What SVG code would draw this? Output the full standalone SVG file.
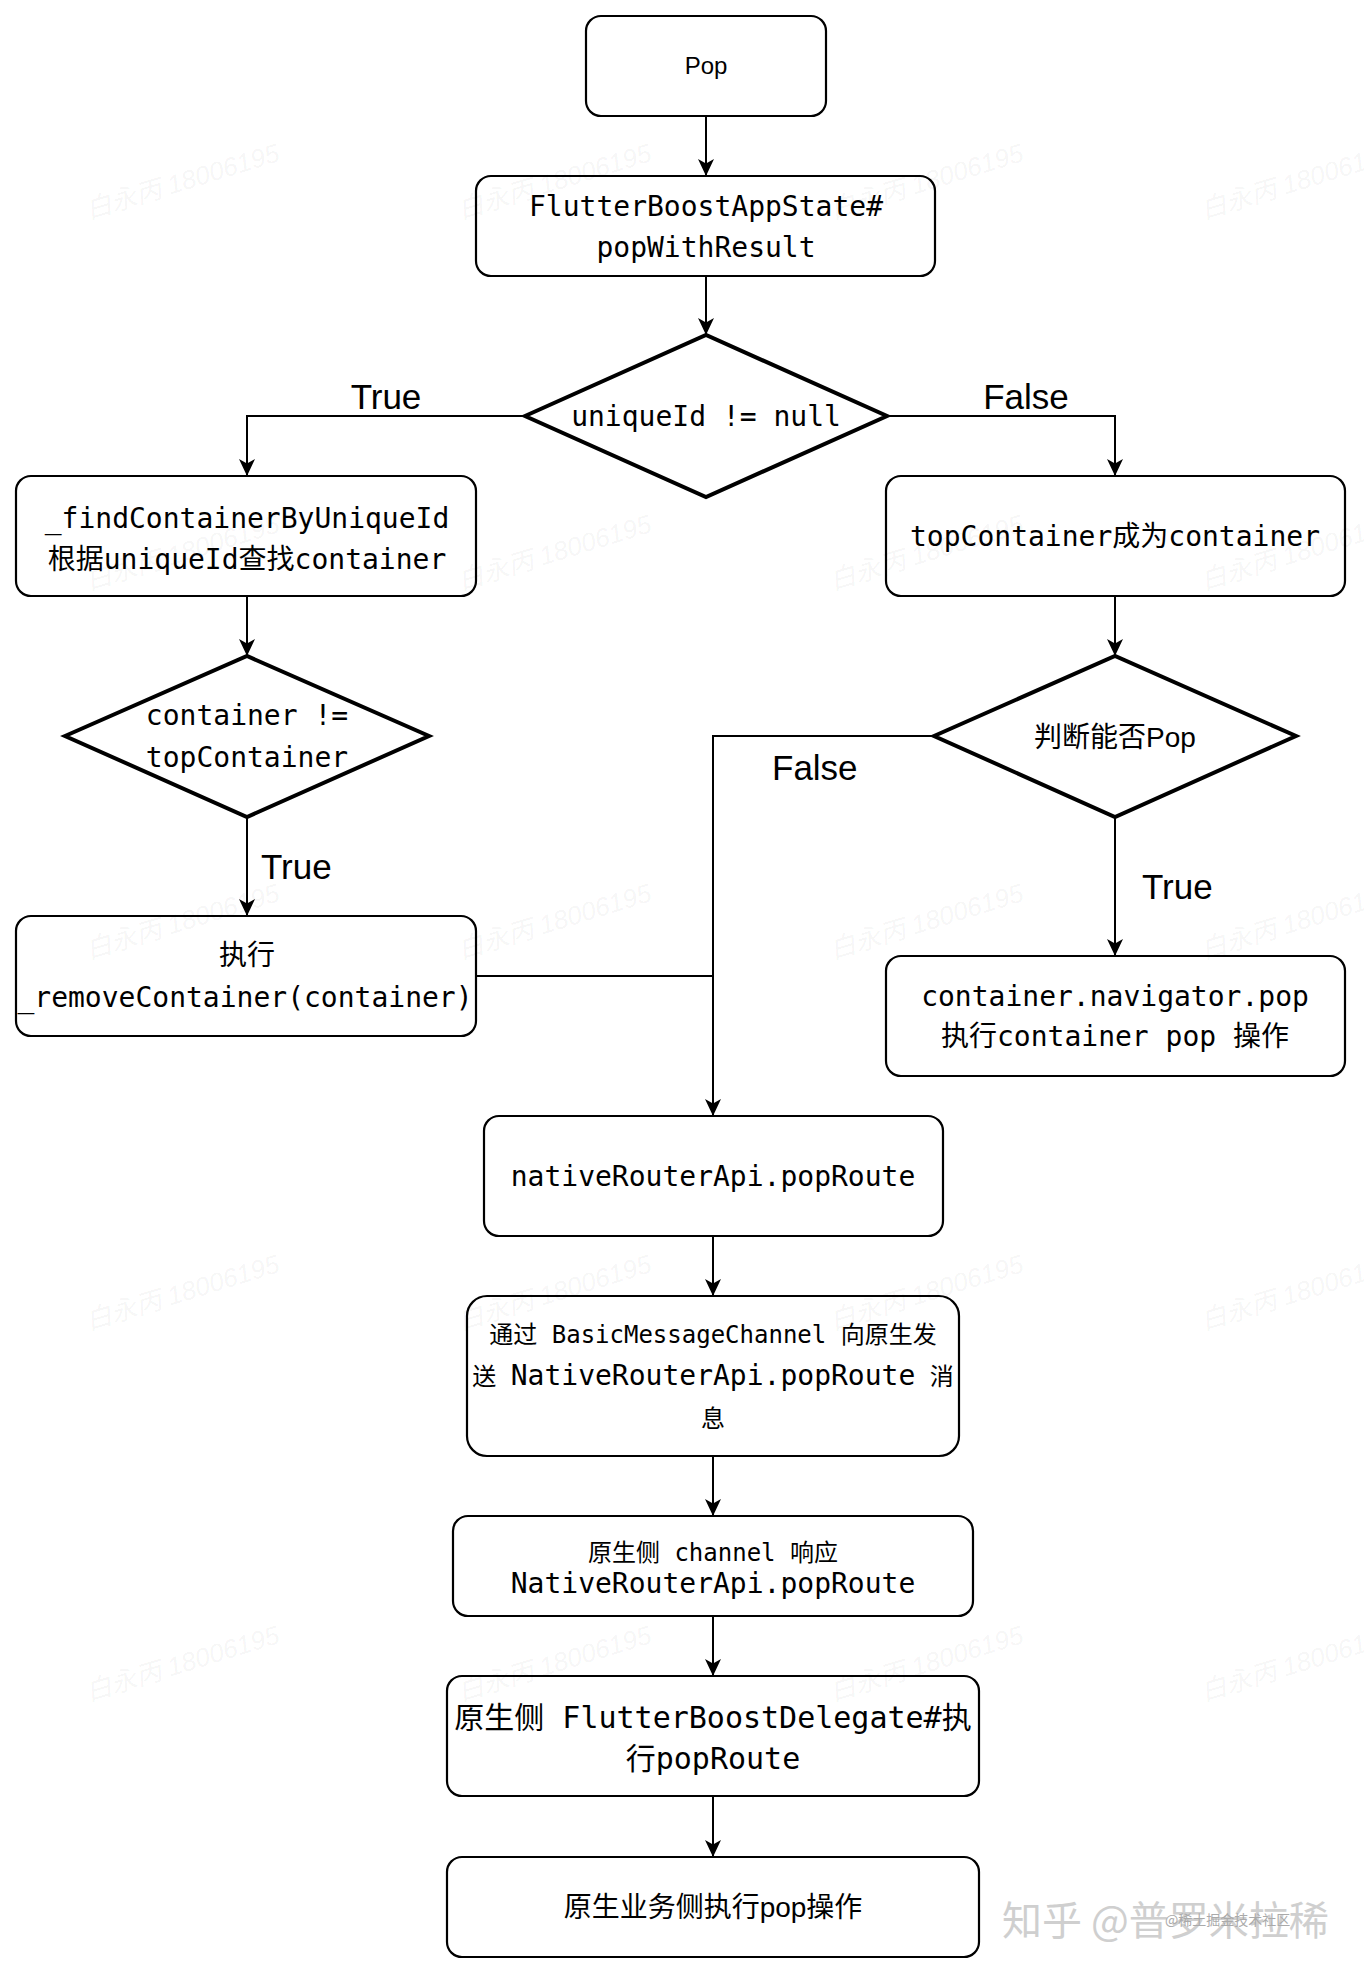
<svg xmlns="http://www.w3.org/2000/svg" width="1364" height="1974" viewBox="0 0 1364 1974">
<style>
.box{fill:#fff;stroke:#000;stroke-width:2.2}
.dia{fill:#fff;stroke:#000;stroke-width:4;stroke-linejoin:miter}
.con{fill:none;stroke:#000;stroke-width:2}
.mono{font-family:"DejaVu Sans Mono","Noto Sans CJK SC",monospace;font-size:28px;fill:#000;text-anchor:middle}
.sm{font-size:24px}
.lg{font-size:30px}
.sans{font-family:"Liberation Sans","Noto Sans CJK SC",sans-serif;fill:#000;text-anchor:middle}
.lbl{font-family:"Liberation Sans",Arial,sans-serif;font-size:35px;fill:#000}
.wm{font-family:"Liberation Sans","Noto Sans CJK SC",sans-serif;font-size:26px;font-style:italic;fill:#000;fill-opacity:0.05;text-anchor:middle}
</style>
<defs>
<marker id="arr" markerUnits="userSpaceOnUse" markerWidth="17" markerHeight="17" viewBox="0 0 17 17" refX="17" refY="8.5" orient="auto">
<path d="M0,0.5 L17,8.5 L0,16.5 L4.5,8.5 Z" fill="#000"/>
</marker>
</defs>
<rect width="1364" height="1974" fill="#fff"/>

<g id="connectors">
<path class="con" d="M706,116 V176" marker-end="url(#arr)"/>
<path class="con" d="M706,276 V335" marker-end="url(#arr)"/>
<path class="con" d="M525,416 H247 V476" marker-end="url(#arr)"/>
<path class="con" d="M887,416 H1115 V476" marker-end="url(#arr)"/>
<path class="con" d="M247,596 V656" marker-end="url(#arr)"/>
<path class="con" d="M1115,596 V656" marker-end="url(#arr)"/>
<path class="con" d="M247,817 V916" marker-end="url(#arr)"/>
<path class="con" d="M934,736 H713 V1116" marker-end="url(#arr)"/>
<path class="con" d="M476,976 H713"/>
<path class="con" d="M1115,817 V956" marker-end="url(#arr)"/>
<path class="con" d="M713,1236 V1296" marker-end="url(#arr)"/>
<path class="con" d="M713,1456 V1516" marker-end="url(#arr)"/>
<path class="con" d="M713,1616 V1676" marker-end="url(#arr)"/>
<path class="con" d="M713,1796 V1857" marker-end="url(#arr)"/>
</g>

<g id="labels">
<text class="lbl" x="386" y="409" text-anchor="middle">True</text>
<text class="lbl" x="1026" y="409" text-anchor="middle">False</text>
<text class="lbl" x="261" y="879">True</text>
<text class="lbl" x="772" y="780">False</text>
<text class="lbl" x="1142" y="899">True</text>
</g>

<g id="n-pop">
<rect class="box" x="586" y="16" width="240" height="100" rx="15"/>
<text class="sans" x="706" y="74" style="font-size:24px">Pop</text>
</g>

<g id="n-popWithResult">
<rect class="box" x="476" y="176" width="459" height="100" rx="15"/>
<text class="mono" x="706" y="216">FlutterBoostAppState#</text>
<text class="mono" x="706" y="257">popWithResult</text>
</g>

<g id="n-uniqueId">
<polygon class="dia" points="525,416 706,335 887,416 706,497"/>
<text class="mono" x="706" y="426">uniqueId != null</text>
</g>

<g id="n-find">
<rect class="box" x="16" y="476" width="460" height="120" rx="15"/>
<text class="mono" x="247" y="528">_findContainerByUniqueId</text>
<text class="mono" x="247" y="569">根据uniqueId查找container</text>
</g>

<g id="n-top">
<rect class="box" x="886" y="476" width="459" height="120" rx="15"/>
<text class="mono" x="1115" y="546">topContainer成为container</text>
</g>

<g id="n-containerCheck">
<polygon class="dia" points="65,736 247,656 429,736 247,817"/>
<text class="mono" x="247" y="725">container !=</text>
<text class="mono" x="247" y="767">topContainer</text>
</g>

<g id="n-canPop">
<polygon class="dia" points="934,736 1115,656 1296,736 1115,817"/>
<text class="sans" x="1115" y="747" style="font-size:28px">判断能否Pop</text>
</g>

<g id="n-remove">
<rect class="box" x="16" y="916" width="460" height="120" rx="15"/>
<text class="mono" x="247" y="965">执行</text>
<text class="mono" x="245" y="1007">_removeContainer(container)</text>
</g>

<g id="n-navPop">
<rect class="box" x="886" y="956" width="459" height="120" rx="15"/>
<text class="mono" x="1115" y="1006">container.navigator.pop</text>
<text class="mono" x="1115" y="1046">执行container pop 操作</text>
</g>

<g id="n-nativeRouter">
<rect class="box" x="484" y="1116" width="459" height="120" rx="15"/>
<text class="mono" x="713" y="1186">nativeRouterApi.popRoute</text>
</g>

<g id="n-channel">
<rect class="box" x="467" y="1296" width="492" height="160" rx="20"/>
<text class="mono sm" x="713" y="1343">通过 BasicMessageChannel 向原生发</text>
<text class="mono" x="713" y="1385"><tspan class="sm">送 </tspan>NativeRouterApi.popRoute<tspan class="sm"> 消</tspan></text>
<text class="mono sm" x="713" y="1427">息</text>
</g>

<g id="n-nativeChannel">
<rect class="box" x="453" y="1516" width="520" height="100" rx="15"/>
<text class="mono sm" x="713" y="1561">原生侧 channel 响应</text>
<text class="mono" x="713" y="1593">NativeRouterApi.popRoute</text>
</g>

<g id="n-delegate">
<rect class="box" x="447" y="1676" width="532" height="120" rx="15"/>
<text class="mono lg" x="713" y="1728">原生侧 FlutterBoostDelegate#执</text>
<text class="mono lg" x="713" y="1769">行popRoute</text>
</g>

<g id="n-final">
<rect class="box" x="447" y="1857" width="532" height="100" rx="15"/>
<text class="sans" x="713" y="1917" style="font-size:28px">原生业务侧执行pop操作</text>
</g>

<g id="watermarks">
<text class="wm" transform="translate(185,190) rotate(-17)">白永丙 18006195</text>
<text class="wm" transform="translate(557,190) rotate(-17)">白永丙 18006195</text>
<text class="wm" transform="translate(929,190) rotate(-17)">白永丙 18006195</text>
<text class="wm" transform="translate(1300,190) rotate(-17)">白永丙 18006195</text>
<text class="wm" transform="translate(185,561) rotate(-17)">白永丙 18006195</text>
<text class="wm" transform="translate(557,561) rotate(-17)">白永丙 18006195</text>
<text class="wm" transform="translate(929,561) rotate(-17)">白永丙 18006195</text>
<text class="wm" transform="translate(1300,561) rotate(-17)">白永丙 18006195</text>
<text class="wm" transform="translate(185,930) rotate(-17)">白永丙 18006195</text>
<text class="wm" transform="translate(557,930) rotate(-17)">白永丙 18006195</text>
<text class="wm" transform="translate(929,930) rotate(-17)">白永丙 18006195</text>
<text class="wm" transform="translate(1300,930) rotate(-17)">白永丙 18006195</text>
<text class="wm" transform="translate(185,1301) rotate(-17)">白永丙 18006195</text>
<text class="wm" transform="translate(557,1301) rotate(-17)">白永丙 18006195</text>
<text class="wm" transform="translate(929,1301) rotate(-17)">白永丙 18006195</text>
<text class="wm" transform="translate(1300,1301) rotate(-17)">白永丙 18006195</text>
<text class="wm" transform="translate(185,1672) rotate(-17)">白永丙 18006195</text>
<text class="wm" transform="translate(557,1672) rotate(-17)">白永丙 18006195</text>
<text class="wm" transform="translate(929,1672) rotate(-17)">白永丙 18006195</text>
<text class="wm" transform="translate(1300,1672) rotate(-17)">白永丙 18006195</text>
<text x="1002" y="1935" font-family="'Noto Sans CJK SC',sans-serif" font-size="40" fill="#cfcfcf">知乎 @普罗米拉稀</text>
<text x="1165" y="1925" font-family="'Noto Sans CJK SC',sans-serif" font-size="14" fill="#aaaaaa">@稀土掘金技术社区</text>
</g>
</svg>
